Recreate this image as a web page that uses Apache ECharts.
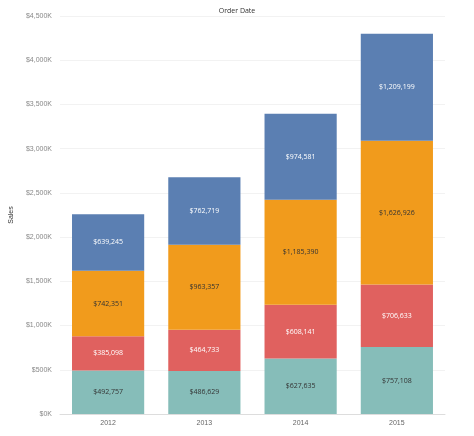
<!DOCTYPE html><html><head><meta charset="utf-8"><script src="https://cdn.jsdelivr.net/npm/echarts@6/dist/echarts.min.js"></script></head><body style="margin:0"><div id="c" style="width:474px;height:436px"></div><script>
const years=['2012','2013','2014','2015'];
const s1=[492757,486629,627635,757108];
const s2=[385098,464733,608141,706633];
const s3=[742351,963357,1185390,1626926];
const s4=[639245,762719,974581,1209199];
const colors=['#86bdb9','#e0615f','#f19b1c','#5b7fb2'];
const lblColor=['#333','#fff','#333','#fff'];
const fmt=v=>'$'+v.toLocaleString('en-US');
const mk=(d,i)=>({type:'bar',stack:'a',data:d,barWidth:'75%',itemStyle:{color:colors[i]},
 label:{show:true,position:'inside',formatter:p=>fmt(p.value),color:lblColor[i],fontSize:7,fontFamily:'Open Sans'}});
const ch=echarts.init(document.getElementById('c'));
ch.setOption({animation:false,
 title:{text:'Order Date',left:'center',top:2,textStyle:{fontSize:7,fontWeight:'normal',color:'#333',fontFamily:'Open Sans'}},
 grid:{left:59,right:29,top:16,bottom:22},
 xAxis:{type:'category',data:years,axisTick:{show:false},axisLine:{lineStyle:{color:'#ddd'}},axisLabel:{fontSize:7,color:'#666',margin:6}},
 yAxis:{type:'value',min:0,max:4500000,interval:500000,name:'Sales',nameLocation:'middle',nameGap:40,nameTextStyle:{fontSize:7,color:'#333'},
  splitLine:{lineStyle:{color:'#f2f2f2'}},axisLabel:{fontSize:7,color:'#888',formatter:v=>'$'+(v/1000).toLocaleString('en-US')+'K'}},
 series:[mk(s1,0),mk(s2,1),mk(s3,2),mk(s4,3)]});
</script></body></html>
